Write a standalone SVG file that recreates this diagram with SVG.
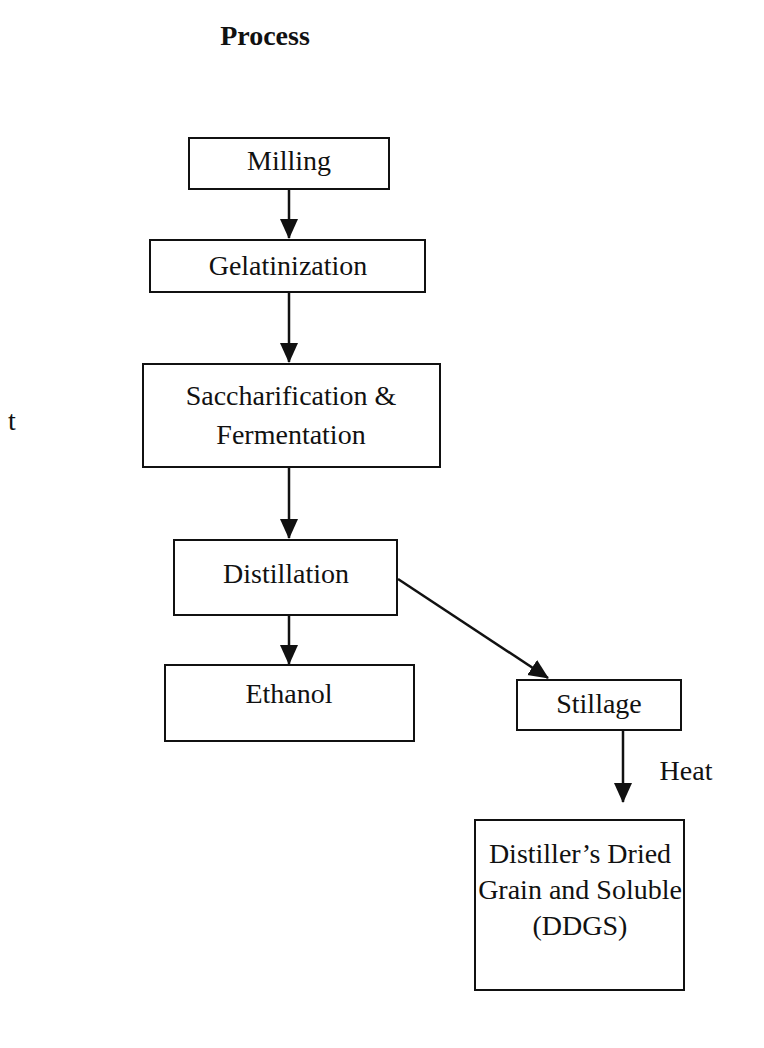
<svg xmlns="http://www.w3.org/2000/svg" width="764" height="1048" viewBox="0 0 764 1048">
<style>
rect{fill:#fff;stroke:#111;stroke-width:2}
text{font-family:"Liberation Serif",serif;font-size:28px;fill:#111;text-anchor:middle}
.c line{stroke:#111;stroke-width:2.5}
</style>
<defs><marker id="b" markerWidth="20" markerHeight="20" refX="19" refY="10" orient="auto" markerUnits="userSpaceOnUse" viewBox="0 0 20 20"><path d="M0,1L20,10L0,19Z" fill="#111"/></marker></defs>
<rect width="764" height="1048" style="stroke:none"/>
<text x="265" y="45" style="font-weight:bold">Process</text>
<text x="12" y="430">t</text>
<g class="c">
<line x1="289" y1="189" x2="289" y2="238" marker-end="url(#b)"/>
<line x1="289" y1="292" x2="289" y2="362" marker-end="url(#b)"/>
<line x1="289" y1="467" x2="289" y2="538" marker-end="url(#b)"/>
<line x1="289" y1="615" x2="289" y2="664" marker-end="url(#b)"/>
<line x1="398" y1="579" x2="548" y2="678" marker-end="url(#b)"/>
<line x1="623" y1="730" x2="623" y2="802" marker-end="url(#b)"/>
</g>
<g id="milling"><rect x="189" y="138" width="200" height="51"/><text x="289" y="170">Milling</text></g>
<g id="gel"><rect x="150" y="240" width="275" height="52"/><text x="288" y="275">Gelatinization</text></g>
<g id="sacc"><rect x="143" y="364" width="297" height="103"/><text x="291" y="405">Saccharification &amp;</text><text x="291" y="444">Fermentation</text></g>
<g id="dist"><rect x="174" y="540" width="223" height="75"/><text x="286" y="583">Distillation</text></g>
<g id="eth"><rect x="165" y="665" width="249" height="76"/><text x="289" y="703">Ethanol</text></g>
<g id="still"><rect x="517" y="680" width="164" height="50"/><text x="599" y="713">Stillage</text></g>
<text x="686" y="780">Heat</text>
<g id="ddgs"><rect x="475" y="820" width="209" height="170"/><text x="580" y="863">Distiller’s Dried</text><text x="580" y="899">Grain and Soluble</text><text x="580" y="935">(DDGS)</text></g>
</svg>
